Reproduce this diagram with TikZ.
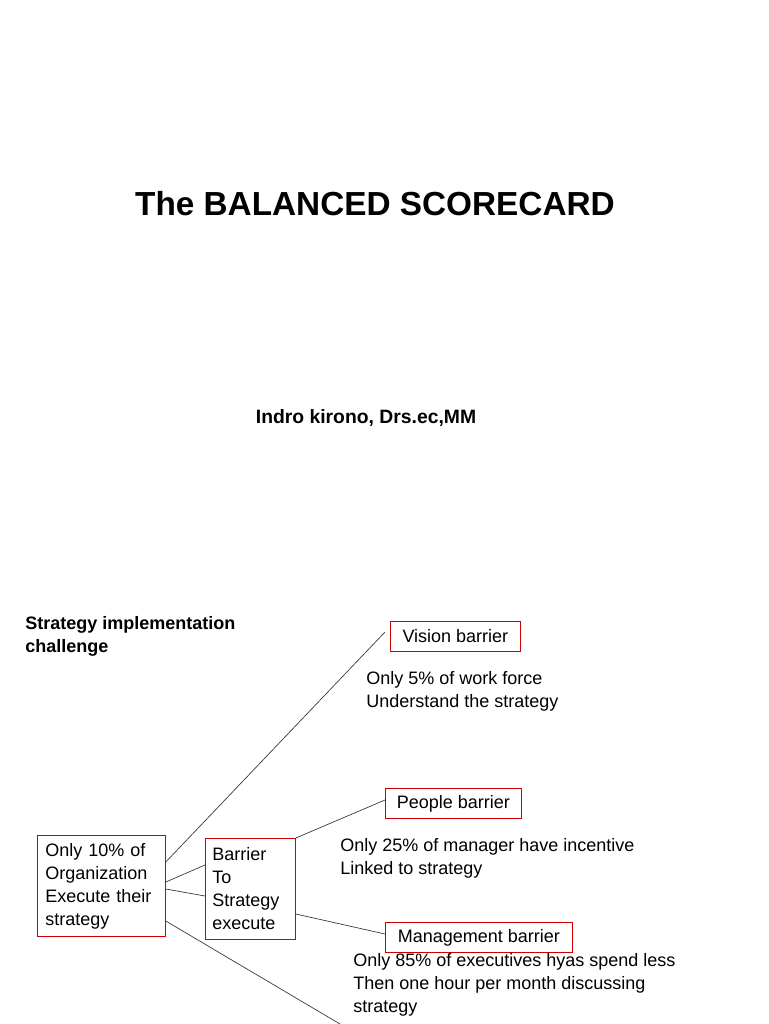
\documentclass[tikz,border=0pt]{standalone}
\usepackage{fontspec}
\setmainfont{Liberation Sans}
\begin{document}
\begin{tikzpicture}[x=0.75pt,y=-0.75pt,
  txt/.style={font=\fontsize{13.5}{17.25}\selectfont,align=left,inner sep=0pt,anchor=north west},
  rbox/.style={draw=red!80!black,line width=0.6pt,font=\fontsize{13.5}{17.25}\selectfont,align=left,inner sep=0pt,anchor=north west},
  ln/.style={draw=black!80,line width=0.5pt}]
\useasboundingbox (0,0) rectangle (768,1024);
\node[font=\bfseries\fontsize{25}{30}\selectfont] (title) at (375,204) {The BALANCED SCORECARD};
\node[font=\bfseries\fontsize{14.5}{18}\selectfont] (auth) at (366,418) {Indro kirono, Drs.ec,MM};
\node[txt,font=\bfseries\fontsize{13.5}{17.25}\selectfont] (head) at (25,616) {Strategy implementation\\challenge};
\node[rbox,minimum width=128*0.75pt,minimum height=101*0.75pt,text width=112*0.75pt,inner xsep=8*0.75pt] (org) at (37,835) {Only 10\% of\\Organization\\Execute their\\strategy};
\node[rbox,minimum width=88*0.75pt,minimum height=101*0.75pt,text width=76*0.75pt,inner xsep=7*0.75pt] (bar) at (205,838) {Barrier\\To\\Strategy\\execute};
\node[rbox,minimum width=130*0.75pt,minimum height=30*0.75pt,inner xsep=9*0.75pt] (vis) at (390,621) {Vision barrier};
\node[rbox,minimum width=136*0.75pt,minimum height=30*0.75pt,inner xsep=7*0.75pt] (peo) at (385,788) {People barrier};
\node[rbox,minimum width=187*0.75pt,minimum height=30*0.75pt,inner xsep=7*0.75pt] (man) at (385,922) {Management barrier};
\node[txt] (t1) at (366,671) {Only 5\% of work force\\Understand the strategy};
\node[txt] (t2) at (340,838) {Only 25\% of manager have incentive\\Linked to strategy};
\node[txt] (t3) at (353,953) {Only 85\% of executives hyas spend less\\Then one hour per month discussing\\strategy};
\coordinate (off) at (340,1024);
\draw[ln] ([yshift=-27*0.75pt]org.north east) -- ([xshift=-5*0.75pt,yshift=-11*0.75pt]vis.north west);
\draw[ln] ([yshift=-47*0.75pt]org.north east) -- ([yshift=-27*0.75pt]bar.north west);
\draw[ln] ([yshift=-54*0.75pt]org.north east) -- ([yshift=-58*0.75pt]bar.north west);
\draw[ln] ([yshift=-86*0.75pt]org.north east) -- (off);
\draw[ln] (bar.north east) -- ([yshift=-12*0.75pt]peo.north west);
\draw[ln] ([yshift=-76*0.75pt]bar.north east) -- ([yshift=-12*0.75pt]man.north west);
\end{tikzpicture}
\end{document}
